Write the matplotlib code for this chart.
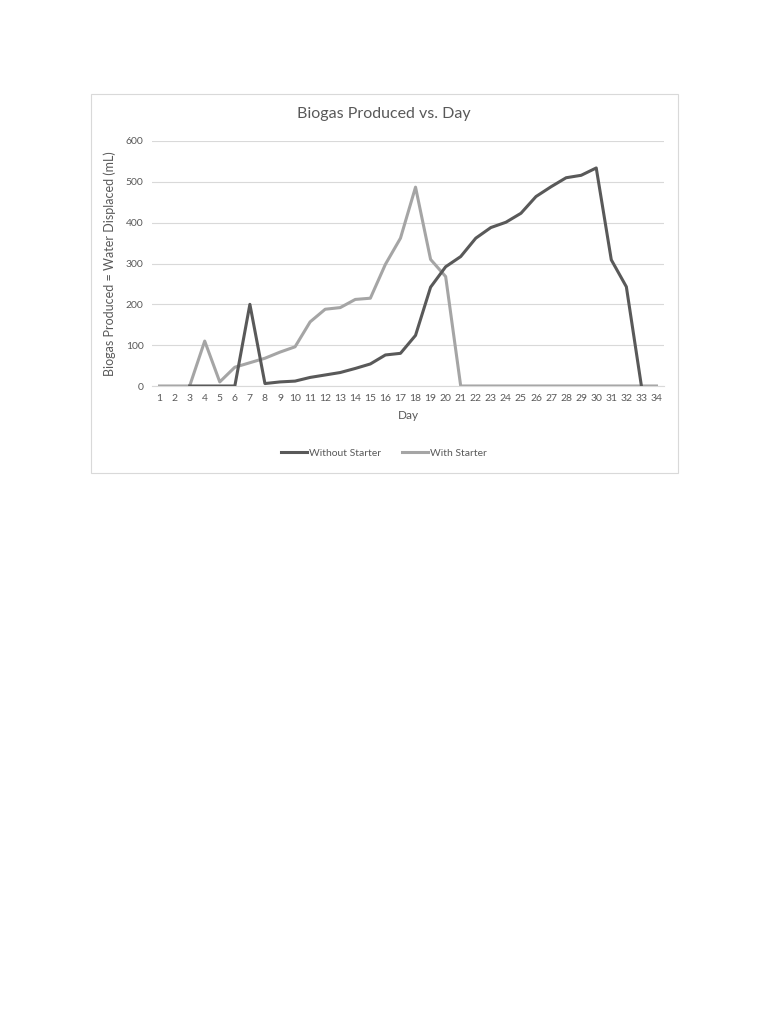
import numpy as np
import matplotlib.pyplot as plt
from matplotlib.patches import Rectangle

plt.rcParams['font.family'] = ['Lato', 'DejaVu Sans']

# data
days = list(range(1, 35))
without_starter = [None, None, 0, 0, 0, 0, 200, 6, 10, 12, 21, 27, 33, 43, 54, 76, 80,
                   124, 242, 292, 317, 362, 388, 401, 423, 464, 488, 510, 516, 534,
                   309, 243, 0, None]
with_starter = [0, 0, 0, 110, 10, 46, 57, 68, 83, 96, 157, 188, 192, 212, 215, 298, 362,
                487, 310, 268, 0, 0, 0, 0, 0, 0, 0, 0, 0, 0, 0, 0, 0, 0]

dark = '#595959'
light = '#A5A5A5'
txt = '#595959'

fig = plt.figure(figsize=(7.68, 10.24), dpi=100)

# chart frame
fig.patches.append(Rectangle((91 / 768, 1 - 473 / 1024), 587 / 768, 379 / 1024,
                             transform=fig.transFigure, fill=False,
                             edgecolor='#D9D9D9', linewidth=0.8))

ax = fig.add_axes([152 / 768, 1 - 386 / 1024, 512 / 768, 245 / 1024])

w = np.array([np.nan if v is None else v for v in without_starter], dtype=float)
ax.plot(days, w, color=dark, linewidth=2.2, label='Without Starter', zorder=3)
ax.plot(days, with_starter, color=light, linewidth=2.2, label='With Starter', zorder=2)

ax.set_xlim(0.5, 34.5)
ax.set_ylim(0, 600)
ax.set_xticks(days)
ax.set_xticklabels([str(d) for d in days])
ax.set_yticks(range(0, 601, 100))
ax.tick_params(length=0, labelsize=7.5, colors=txt, pad=6)
ax.grid(axis='y', color='#D9D9D9', linewidth=0.8)
ax.set_axisbelow(True)
for s in ['top', 'right', 'left']:
    ax.spines[s].set_visible(False)
ax.spines['bottom'].set_color('#D9D9D9')
ax.spines['bottom'].set_linewidth(0.8)

ax.set_xlabel('Day', fontsize=8.5, color=txt, labelpad=5)
ax.set_ylabel('Biogas Produced = Water Displaced (mL)', fontsize=9, color=txt, labelpad=7)

fig.text(384 / 768, 1 - 114 / 1024, 'Biogas Produced vs. Day', ha='center', va='center',
         fontsize=11.5, color=txt)

fig.legend(loc='center', bbox_to_anchor=(384 / 768, 1 - 453 / 1024), ncol=2,
           frameon=False, fontsize=7.5, labelcolor=txt, handlelength=2.5,
           handletextpad=0.2, columnspacing=2.0)

fig.savefig('out.png', dpi=100)
